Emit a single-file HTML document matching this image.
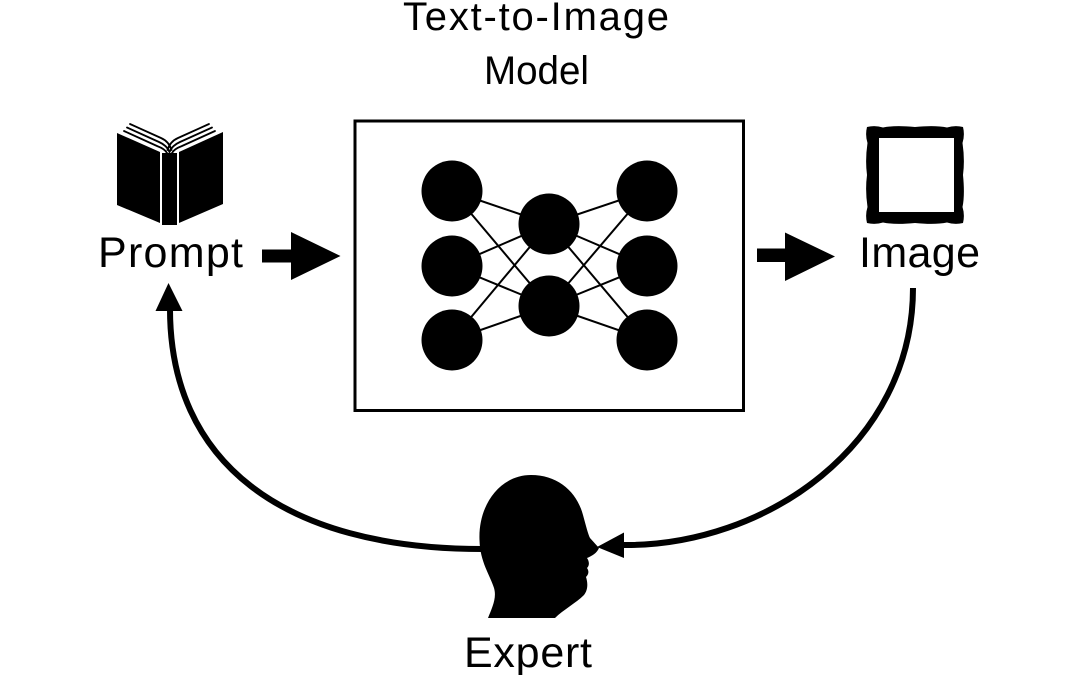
<!DOCTYPE html>
<html>
<head>
<meta charset="utf-8">
<style>
  html, body { margin: 0; padding: 0; background: #fff; }
  body { width: 1080px; height: 675px; overflow: hidden; }
  svg { display: block; }
  text { font-family: "Liberation Sans", "DejaVu Sans", sans-serif; fill: #000; }
</style>
</head>
<body>
<svg width="1080" height="675" viewBox="0 0 1080 675" xmlns="http://www.w3.org/2000/svg">
  <rect x="0" y="0" width="1080" height="675" fill="#fff"/>

  <!-- Title -->
  <text x="403" y="30" font-size="40" textLength="266" lengthAdjust="spacing">Text-to-Image</text>
  <text x="484" y="84" font-size="40" textLength="105" lengthAdjust="spacingAndGlyphs">Model</text>

  <!-- Model box -->
  <rect x="355" y="121" width="388.5" height="289.5" fill="none" stroke="#000" stroke-width="3"/>

  <!-- Network connections -->
  <g stroke="#000" stroke-width="2">
    <line x1="452" y1="191" x2="549" y2="224"/>
    <line x1="452" y1="191" x2="549" y2="306"/>
    <line x1="452" y1="266" x2="549" y2="224"/>
    <line x1="452" y1="266" x2="549" y2="306"/>
    <line x1="452" y1="340" x2="549" y2="224"/>
    <line x1="452" y1="340" x2="549" y2="306"/>
    <line x1="549" y1="224" x2="647" y2="191"/>
    <line x1="549" y1="224" x2="647" y2="266"/>
    <line x1="549" y1="224" x2="647" y2="340"/>
    <line x1="549" y1="306" x2="647" y2="191"/>
    <line x1="549" y1="306" x2="647" y2="266"/>
    <line x1="549" y1="306" x2="647" y2="340"/>
  </g>
  <g fill="#000">
    <circle cx="452" cy="191" r="30.5"/>
    <circle cx="452" cy="266" r="30.5"/>
    <circle cx="452" cy="340" r="30.5"/>
    <circle cx="549" cy="224" r="30.5"/>
    <circle cx="549" cy="306" r="30.5"/>
    <circle cx="647" cy="191" r="30.5"/>
    <circle cx="647" cy="266" r="30.5"/>
    <circle cx="647" cy="340" r="30.5"/>
  </g>

  <!-- Book icon -->
  <g fill="#000">
    <polygon points="117,133 160,152 160,223 117,205"/>
    <rect x="162" y="153" width="15" height="72"/>
    <polygon points="179,152 223,132 223,204 179,223"/>
  </g>
  <g fill="none" stroke="#000" stroke-width="1.8" stroke-linecap="round">
    <path d="M124 131 L157 146 Q165 149 167 153"/>
    <path d="M127 127.5 L159 142 Q167 145.5 169.5 152"/>
    <path d="M130 124 L161 138 Q169 141.5 171.5 150"/>
    <path d="M215 131 L182 146 Q174 149 172 153"/>
    <path d="M212 127.5 L180 142 Q172 145.5 169.5 152"/>
    <path d="M209 124 L178 138 Q170 141.5 167.5 150"/>
  </g>

  <!-- Prompt label -->
  <text x="98" y="267" font-size="43" textLength="145" lengthAdjust="spacing">Prompt</text>

  <!-- Left block arrow -->
  <polygon points="262,249.5 291,249.5 291,232 340.5,256 291,280 291,262.5 262,262.5" fill="#000"/>

  <!-- Right block arrow -->
  <polygon points="757,248.5 785,248.5 785,232.5 835,256.5 785,281 785,262 757,262" fill="#000"/>

  <!-- Frame icon -->
  <path d="M867 127 Q875 125 883 127.5 Q895 125 915 127 Q935 125 947 127.5 Q955 125 963 127
           Q965 135 962.5 143 Q965 160 963 175 Q965 195 962.5 207 Q965 215 963 223
           Q955 225 947 222.5 Q935 225 915 223 Q895 225 883 222.5 Q875 225 867 223
           Q865 215 867.5 207 Q865 190 867 175 Q865 160 867.5 143 Q865 135 867 127 Z" fill="#000"/>
  <rect x="879" y="138" width="75" height="74" fill="#fff"/>

  <!-- Image label -->
  <text x="859" y="267" font-size="43" textLength="121" lengthAdjust="spacing">Image</text>

  <!-- Curved arrow: Image -> Expert -->
  <path d="M913 288 C913 445 765 547 622 545" fill="none" stroke="#000" stroke-width="6"/>
  <polygon points="597,547 624,532.5 624,558" fill="#000"/>

  <!-- Curved arrow: Expert -> Prompt -->
  <path d="M486 549 C280 550 170 460 170 309" fill="none" stroke="#000" stroke-width="6"/>
  <polygon points="168.5,283 155.5,311 182.5,311" fill="#000"/>

  <!-- Head silhouette -->
  <path d="M488 618
           C492 608 497 598 494 588
           C490 575 480 562 479.5 540
           C478 505 500 475 531 475
           C558 475 577 492 583 515
           C586 526 588 534 590 538
           L599 548
           C597 553 592 556 587 558
           C589 561 590 565 587 568
           C589 571 589 574 586 577
           C588 583 588 590 584 595
           C576 603 563 610 555 618 Z" fill="#000"/>

  <!-- Expert label -->
  <text x="464" y="667" font-size="43" textLength="128" lengthAdjust="spacing">Expert</text>
</svg>
</body>
</html>
